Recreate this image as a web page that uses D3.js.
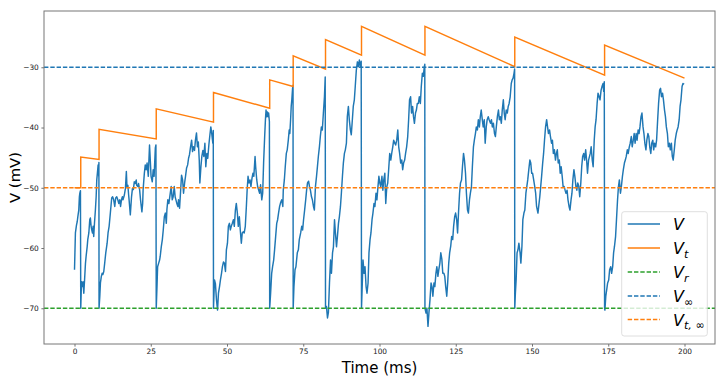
<!DOCTYPE html>
<html><head><meta charset="utf-8">
<script src="https://cdn.jsdelivr.net/npm/d3@7"></script>
<style>body{margin:0;background:#fff}svg{display:block}text{font-family:"DejaVu Sans",sans-serif}</style>
</head><body><svg id="c" width="720" height="382"></svg>
<script>
// ---- data ----
const timeMs = [
0,0.3,0.65,0.9,1.1,1.4,1.6,1.75,1.95,2.05,
2.3,2.6,2.8,3.05,3.3,3.6,3.8,4.15,4.35,4.7,5.0,5.2,5.45,5.65,5.9,6.1,6.3,6.55,6.85,7.1,7.3,7.5,7.75,7.95,8.0,8.05,
8.3,8.5,8.8,9.05,9.3,9.6,9.9,10.25,10.7,11.0,11.35,11.75,12.2,12.5,12.85,13.2,13.5,13.85,14.2,14.5,14.85,15.1,15.4,15.7,15.9,16.35,16.7,17.0,17.2,17.5,17.75,17.9,18.3,18.7,19.0,19.3,19.6,19.9,20.25,20.4,20.75,21.0,21.35,21.65,22.1,22.35,22.5,22.9,23.2,23.5,23.8,24.2,24.4,24.6,24.8,25.1,25.5,25.8,26.1,26.5,26.7,26.8,
27.05,27.25,27.6,27.9,28.1,28.45,28.8,29.1,29.45,29.8,30.1,30.3,30.6,30.95,31.4,31.7,32.05,32.35,32.7,33.0,33.55,33.9,34.1,34.45,34.8,35.1,35.45,35.75,36.1,36.4,36.75,37.1,37.4,37.7,38.05,38.4,38.7,39.0,39.35,39.65,40.0,40.3,40.6,40.9,41.1,41.45,41.75,42.1,42.4,42.75,43.05,43.4,43.7,44.05,44.4,44.7,45.0,45.35,45.5,45.57,
45.9,46.2,46.55,46.9,47.2,47.55,47.85,48.2,48.5,48.85,49.15,49.5,49.8,50.15,50.45,50.8,51.1,51.4,51.75,52.1,52.4,52.75,53.05,53.4,53.7,54.05,54.35,54.7,55.0,55.35,55.65,56.0,56.35,56.6,56.9,57.2,57.55,57.85,58.2,58.5,58.8,59.2,59.4,59.75,60.05,60.4,60.7,61.0,61.4,61.7,62.0,62.35,62.6,62.8,63.0,63.25,63.45,63.65,63.9,64.0,
64.3,64.65,64.95,65.3,65.6,65.95,66.3,66.6,66.9,67.25,67.55,67.95,68.3,68.45,68.8,69.1,69.45,69.75,70.1,70.4,70.6,70.85,71.05,71.25,71.5,71.65,71.7,
71.95,72.3,72.6,73.05,73.4,73.7,74.15,74.5,74.8,75.1,75.45,75.8,76.1,76.4,76.75,77.05,77.35,77.7,78.0,78.35,78.65,79.0,79.35,79.65,79.95,80.3,80.6,80.95,81.25,81.6,81.95,82.2,82.3,
82.6,82.95,83.25,83.6,83.95,84.25,84.6,84.9,85.25,85.55,85.9,86.2,86.55,86.85,87.2,87.5,87.85,88.15,88.5,88.8,89.15,89.45,89.8,90.1,90.45,90.75,91.1,91.4,91.75,92.05,92.4,92.75,93.05,93.4,93.7,94.0,94.1,
94.35,94.6,94.95,95.25,95.6,95.9,96.25,96.55,96.9,97.2,97.55,97.85,98.2,98.5,98.85,99.15,99.5,99.8,100.1,100.4,100.8,101.1,101.4,101.75,102.05,102.4,102.7,103.0,103.35,103.7,104.0,104.35,104.65,105.0,105.3,105.65,106.0,106.3,106.6,106.95,107.3,107.6,107.9,108.25,108.55,108.9,109.25,109.55,109.85,110.2,110.5,110.85,111.15,111.45,111.8,112.1,112.4,112.75,113.05,113.4,113.7,114.05,114.35,114.7,114.85,114.9,
115.25,115.55,115.9,116.2,116.55,116.9,117.2,117.5,117.85,118.15,118.5,118.8,119.15,119.45,119.8,120.1,120.45,120.75,121.1,121.4,121.7,122.05,122.35,122.7,123.0,123.35,123.65,124.0,124.3,124.65,124.95,125.3,125.6,125.9,126.25,126.55,126.9,127.2,127.55,127.85,128.2,128.5,128.85,129.15,129.5,129.8,130.15,130.45,130.8,131.1,131.45,131.75,132.1,132.4,132.75,133.05,133.35,133.7,134.0,134.35,134.65,135.0,135.3,135.65,135.95,136.4,136.7,137.0,137.35,137.7,138.0,138.3,138.65,139.0,139.3,139.6,139.95,140.25,140.6,140.9,141.2,141.55,141.9,142.2,142.5,142.85,143.2,143.5,143.8,144.1,144.3,144.35,
144.55,144.8,145.1,145.4,145.7,146.1,146.35,146.7,147.0,147.35,147.65,148.0,148.3,148.6,148.95,149.3,149.6,149.9,150.2,150.55,150.9,151.2,151.5,151.95,152.2,152.55,152.85,153.15,153.5,153.8,154.1,154.45,154.8,155.1,155.4,155.75,156.05,156.4,156.7,157.0,157.35,157.7,158.0,158.3,158.6,158.95,159.25,159.55,159.9,160.2,160.55,160.85,161.15,161.5,161.8,162.15,162.45,162.8,163.1,163.4,163.75,164.05,164.4,164.7,165.0,165.35,165.65,166.0,166.3,166.6,166.95,167.25,167.6,167.9,168.2,168.55,169.1,169.4,169.75,170.05,170.4,170.7,171.0,171.35,171.65,172.0,172.3,172.65,172.95,173.3,173.5,173.7,173.8,
173.9,174.2,174.5,174.8,175.15,175.45,175.8,176.1,176.45,176.75,177.05,177.4,177.7,178.05,178.35,178.65,179.0,179.3,179.65,179.95,180.3,180.6,180.9,181.25,181.55,181.9,182.2,182.55,182.85,183.2,183.5,183.8,184.15,184.45,184.8,185.1,185.4,185.75,186.05,186.4,186.7,187.0,187.35,187.65,188.0,188.3,188.6,188.95,189.25,189.6,189.9,190.2,190.55,190.85,191.2,191.5,191.85,192.15,192.45,192.8,193.1,193.45,193.75,194.05,194.4,194.7,195.05,195.35,195.7,196.0,196.3,196.65,196.95,197.3,197.6,197.9,198.25,198.55,198.85,199.2,199.5,199.9
];
const voltage = [
-63.6,-57.5,-56.2,-55.6,-54.8,-53.7,-51.5,-50.9,-50.5,-70,
-65.6,-66.4,-65.6,-67.5,-65.3,-62.5,-61.4,-59.8,-58.6,-57.5,-55.3,-55.0,-56.4,-57.0,-57.5,-56.4,-58.1,-55.9,-53.7,-51.5,-48.7,-47.6,-46.2,-48.1,-45.8,-70,
-68.0,-65.8,-64.7,-64.2,-64.4,-63.9,-62.5,-60.8,-59.2,-57.5,-56.4,-54.2,-51.7,-51.5,-52.0,-53.1,-51.7,-51.5,-52.0,-52.6,-52.0,-53.1,-52.0,-51.5,-52.0,-51.2,-50.1,-47.3,-49.8,-49.6,-51.2,-52.0,-54.5,-51.5,-50.1,-50.3,-49.0,-49.3,-48.7,-49.6,-49.8,-49.3,-50.3,-52.0,-54.0,-52.6,-50.3,-47.6,-46.2,-47.0,-45.9,-48.1,-45.4,-42.9,-44.9,-48.1,-49.0,-47.0,-48.1,-43.4,-42.9,-70,
-66.4,-63.1,-62.5,-62.0,-61.4,-59.8,-58.6,-57.0,-54.8,-54.2,-55.9,-53.6,-52.0,-52.6,-50.9,-49.8,-52.0,-51.5,-49.8,-51.5,-52.6,-53.1,-52.0,-53.4,-50.4,-47.9,-48.7,-50.9,-49.2,-48.1,-46.7,-46.2,-45.1,-44.5,-43.2,-42.1,-44.0,-43.2,-43.8,-42.1,-40.9,-43.2,-42.4,-45.4,-49.2,-46.5,-44.8,-43.8,-44.8,-42.6,-46.5,-44.3,-45.1,-42.9,-41.2,-39.9,-41.0,-42.6,-40.5,-70,
-65.3,-65.9,-68.6,-70.3,-67.5,-66.4,-65.3,-64.2,-63.1,-62.3,-62.5,-63.9,-60.3,-59.2,-56.4,-55.9,-57.0,-56.4,-55.9,-55.3,-56.4,-53.7,-52.6,-54.2,-56.4,-54.8,-57.0,-59.2,-57.5,-57.3,-57.5,-56.4,-53.1,-50.4,-48.1,-49.2,-48.7,-49.8,-48.4,-47.6,-48.1,-44.8,-46.5,-48.7,-49.8,-50.4,-50.9,-49.5,-52.0,-50.9,-45.9,-41.5,-38.7,-37.1,-38.2,-37.4,-38.2,-37.6,-39.0,-70,
-67.5,-64.2,-63.1,-62.0,-60.3,-58.1,-55.9,-55.3,-54.2,-53.1,-52.5,-52.0,-53.1,-50.4,-48.7,-46.5,-44.3,-43.7,-42.1,-40.4,-41.0,-38.7,-36.5,-35.4,-33.5,-33.0,-70,
-66.4,-63.6,-63.1,-60.8,-60.3,-58.6,-57.5,-56.4,-57.0,-55.3,-53.7,-52.0,-50.4,-49.2,-48.9,-49.8,-50.4,-51.5,-52.0,-53.1,-53.7,-49.8,-48.1,-46.5,-44.8,-43.2,-41.5,-39.9,-40.4,-37.6,-34.9,-31.6,-70,
-69.7,-71.6,-70.7,-65.8,-62.0,-64.2,-60.8,-59.8,-55.3,-57.5,-59.8,-58.1,-55.9,-54.8,-53.1,-50.9,-48.1,-45.9,-44.3,-43.7,-42.6,-38.2,-36.5,-38.7,-40.4,-41.2,-38.7,-36.5,-35.4,-33.2,-30.5,-29.1,-29.9,-28.8,-29.9,-29.0,-70,
-66.0,-62.0,-64.2,-63.1,-66.4,-67.5,-65.8,-60.8,-58.6,-57.5,-55.3,-54.2,-52.6,-53.1,-50.9,-52.0,-49.8,-48.1,-49.2,-49.8,-48.1,-50.4,-48.7,-47.6,-52.6,-49.8,-49.2,-47.0,-44.3,-45.4,-44.3,-43.2,-42.1,-42.6,-42.9,-42.1,-40.4,-43.2,-44.3,-45.9,-45.4,-47.0,-45.9,-45.4,-44.3,-43.2,-41.5,-38.7,-35.4,-34.9,-37.6,-36.5,-38.2,-39.3,-37.6,-37.1,-36.0,-36.0,-34.9,-36.0,-33.2,-31.0,-31.5,-29.9,-29.5,-70,
-70.8,-70.0,-73.0,-70.8,-68.6,-65.8,-66.4,-68.0,-65.8,-66.4,-64.2,-63.1,-64.7,-63.6,-62.5,-60.8,-61.9,-64.2,-64.2,-64.7,-66.4,-68.0,-65.8,-62.5,-60.8,-59.7,-58.1,-58.6,-56.4,-54.8,-54.2,-55.3,-57.5,-54.2,-50.9,-49.2,-48.7,-46.5,-44.3,-45.4,-47.6,-50.9,-53.7,-54.2,-52.0,-50.9,-49.8,-46.5,-43.2,-42.1,-41.0,-39.9,-40.4,-38.7,-39.9,-38.2,-37.1,-38.7,-39.9,-38.7,-42.6,-39.9,-38.7,-38.2,-38.7,-39.3,-38.7,-39.9,-39.3,-41.0,-41.5,-39.9,-38.2,-37.1,-38.7,-38.2,-39.3,-37.1,-35.4,-37.6,-38.7,-37.1,-37.6,-36.5,-36.0,-34.9,-32.7,-32.1,-31.8,-31.0,-30.3,-70,
-67.5,-65.3,-60.8,-60.3,-59.2,-60.8,-62.5,-59.7,-55.3,-54.2,-53.7,-50.9,-49.8,-48.7,-47.0,-45.4,-45.9,-47.6,-47.6,-48.7,-49.8,-50.9,-53.1,-54.2,-53.1,-51.5,-49.8,-48.1,-45.9,-44.3,-42.1,-39.9,-38.7,-39.9,-41.0,-40.4,-41.5,-42.6,-42.1,-44.3,-43.7,-45.4,-44.3,-43.7,-45.9,-45.4,-47.6,-46.5,-48.1,-49.8,-49.8,-50.4,-50.9,-50.4,-52.0,-53.1,-53.7,-52.0,-50.9,-48.7,-47.0,-48.1,-49.8,-50.4,-49.2,-49.8,-51.5,-49.2,-46.5,-44.8,-44.3,-45.4,-43.7,-45.4,-47.6,-45.4,-44.3,-43.2,-45.4,-46.5,-42.1,-39.9,-38.7,-36.0,-34.3,-34.9,-35.4,-33.8,-33.2,-32.7,-34.0,-32.4,-70,
-70.3,-68.0,-66.9,-65.8,-65.3,-63.6,-63.1,-64.2,-63.1,-60.8,-59.7,-58.1,-55.3,-52.0,-49.8,-48.7,-50.9,-49.8,-48.1,-47.0,-45.9,-45.4,-44.8,-43.7,-44.3,-43.2,-42.6,-41.5,-43.2,-42.1,-41.0,-42.6,-41.0,-42.1,-40.4,-41.0,-39.9,-38.2,-37.6,-39.9,-41.0,-42.6,-43.7,-42.1,-41.0,-41.5,-43.2,-44.3,-42.6,-42.1,-43.7,-42.6,-43.2,-42.1,-38.7,-36.0,-33.8,-33.5,-34.9,-34.3,-35.4,-37.1,-38.2,-39.9,-41.0,-43.2,-42.6,-43.7,-42.6,-44.8,-45.4,-43.7,-42.1,-41.0,-40.4,-39.9,-38.7,-36.5,-35.4,-33.2,-32.7,-32.8
];
// threshold V_t: value just before / just after each spike
const thresholdTime  = [0, 2.05, 2.05, 8.05, 8.05, 26.8, 26.8, 45.57, 45.57, 64.0, 64.0, 71.7, 71.7, 82.3, 82.3, 94.1, 94.1, 114.9, 114.9, 144.35, 144.35, 173.8, 173.8, 200];
const thresholdValue = [-50, -50, -44.9, -45.3, -40.3, -41.9, -36.9, -39.1, -34.2, -36.8, -32.1, -33.2, -28.1, -30.3, -25.4, -28.0, -23.2, -28.0, -23.2, -29.9, -25.0, -31.3, -26.3, -31.8];
const refLevels = [
  {name: "Vr", value: -70, color: "#2ca02c"},
  {name: "Vinf", value: -30, color: "#1f77b4"},
  {name: "Vtinf", value: -50, color: "#ff7f0e"}
];
const xTicks = [0, 25, 50, 75, 100, 125, 150, 175, 200];
const yTicks = [-70, -60, -50, -40, -30];
const xDomain = [-10, 210];
const yDomain = [-75.93, -20.66];

// ---- drawing ----
const svg = d3.select("#c");
const L = 44, R = 715, T = 11, B = 344;
const x = d3.scaleLinear().domain(xDomain).range([L, R]);
const y = d3.scaleLinear().domain(yDomain).range([B, T]);
const blue = "#1f77b4", orange = "#ff7f0e";

svg.append("defs").append("clipPath").attr("id", "clip")
  .append("rect").attr("x", L).attr("y", T).attr("width", R - L).attr("height", B - T);
const plot = svg.append("g").attr("clip-path", "url(#clip)");

const vData = timeMs.map((t, i) => [t, voltage[i]]);
const tData = thresholdTime.map((t, i) => [t, thresholdValue[i]]);
const line = d3.line().x(d => x(d[0])).y(d => y(d[1]));

plot.append("path").datum(vData).attr("d", line)
  .attr("fill", "none").attr("stroke", blue).attr("stroke-width", 1.45).attr("stroke-linejoin", "round");
plot.append("path").datum(tData).attr("d", line)
  .attr("fill", "none").attr("stroke", orange).attr("stroke-width", 1.45);

refLevels.forEach(r => {
  plot.append("line").attr("x1", L).attr("x2", R).attr("y1", y(r.value)).attr("y2", y(r.value))
    .attr("stroke", r.color).attr("stroke-width", 1.3).attr("stroke-dasharray", "4.4,1.9");
});

// axes
const fmt = d => d < 0 ? "\u2212" + Math.abs(d) : String(d);
const xAxis = svg.append("g").attr("transform", `translate(0,${B})`)
  .call(d3.axisBottom(x).tickValues(xTicks).tickFormat(fmt).tickSizeOuter(0).tickSize(2.6).tickPadding(2.6));
const yAxis = svg.append("g").attr("transform", `translate(${L},0)`)
  .call(d3.axisLeft(y).tickValues(yTicks).tickFormat(fmt).tickSizeOuter(0).tickSize(2.6).tickPadding(2.6));
[xAxis, yAxis].forEach(a => {
  a.select(".domain").remove();
  a.selectAll(".tick line").attr("stroke", "#333").attr("stroke-width", 0.7);
  a.selectAll(".tick text").attr("font-family", "DejaVu Sans").attr("font-size", 7.4).attr("fill", "#222");
});
// spines
svg.append("rect").attr("x", L).attr("y", T).attr("width", R - L).attr("height", B - T)
  .attr("fill", "none").attr("stroke", "#777").attr("stroke-width", 1);

svg.append("text").attr("x", (L + R) / 2).attr("y", 372.5).attr("text-anchor", "middle")
  .attr("font-size", 15).text("Time (ms)");
svg.append("text").attr("transform", `translate(20,${(T + B) / 2}) rotate(-90)`).attr("text-anchor", "middle")
  .attr("font-size", 14.8).text("V (mV)");

// legend
const lg = svg.append("g");
lg.append("rect").attr("x", 621.7).attr("y", 211.7).attr("width", 85.6).attr("height", 124.3).attr("rx", 2.5)
  .attr("fill", "white").attr("fill-opacity", 0.8).attr("stroke", "#d5d5d5").attr("stroke-width", 0.8);
const entries = [
  {sub: null, color: blue, dash: null},
  {sub: "t", color: orange, dash: null},
  {sub: "r", color: "#2ca02c", dash: "4.4,1.9"},
  {sub: "\u221e", color: blue, dash: "4.4,1.9"},
  {sub: "t, \u221e", color: orange, dash: "4.4,1.9"}
];
const rowY = [224, 248, 272, 296, 319.5];
entries.forEach((e, i) => {
  const yy = rowY[i];
  const ln = lg.append("line").attr("x1", 627.7).attr("x2", 660).attr("y1", yy).attr("y2", yy)
    .attr("stroke", e.color).attr("stroke-width", 1.4);
  if (e.dash) ln.attr("stroke-dasharray", e.dash);
  const tx = lg.append("text").attr("x", 673).attr("y", yy + 6).attr("font-size", 16);
  tx.append("tspan").attr("font-style", "italic").text("V");
  if (e.sub) {
    const parts = e.sub.split(/(\u221e)/).filter(s => s.length);
    let first = true;
    parts.forEach(p => {
      const ts = tx.append("tspan").attr("font-size", 11.2).text(p);
      if (p !== "\u221e") ts.attr("font-style", "italic");
      if (first) { ts.attr("dy", 3.6); first = false; }
    });
  }
});
</script></body></html>
